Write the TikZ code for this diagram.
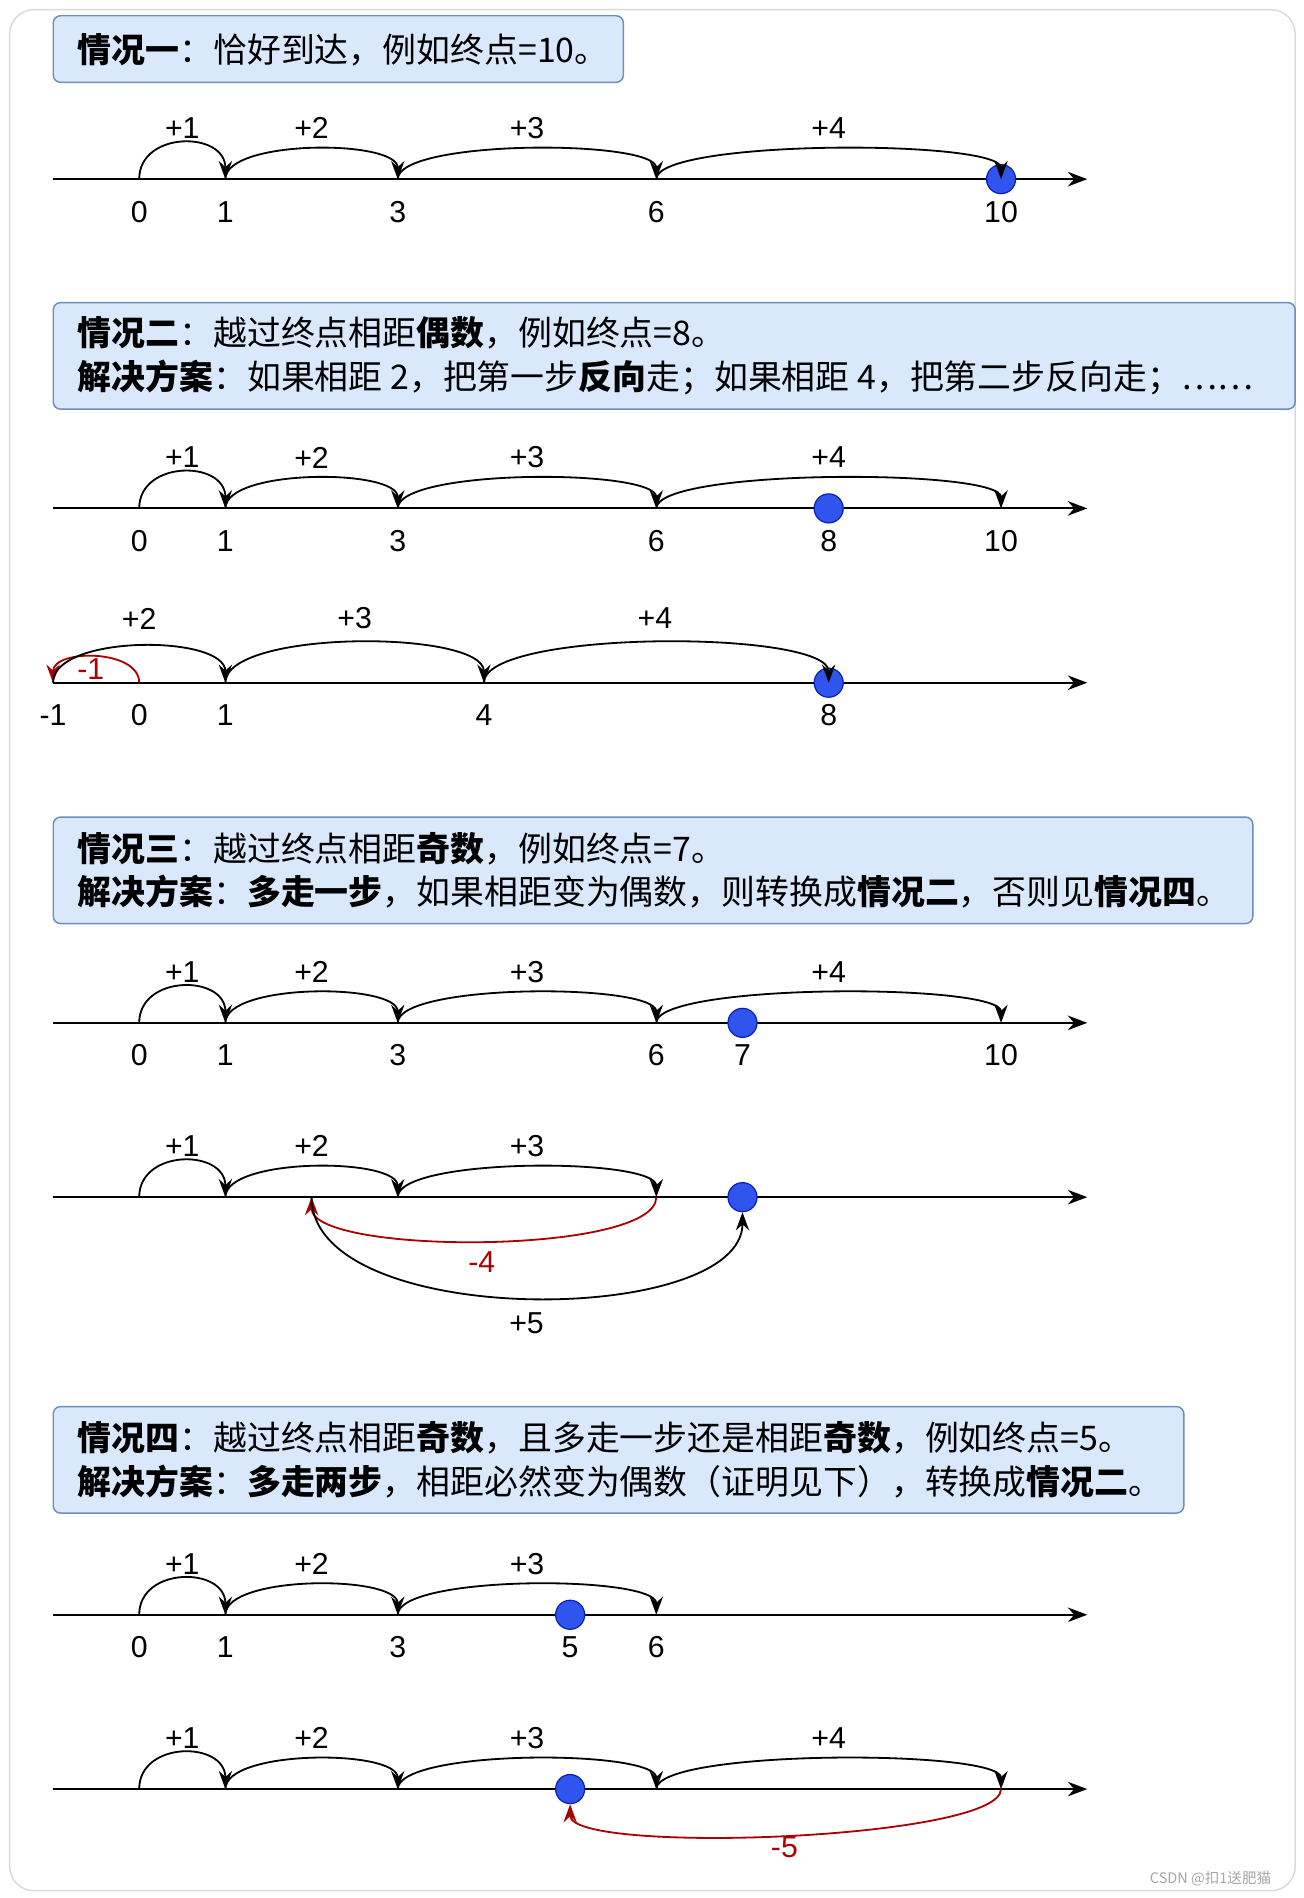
\documentclass[tikz,border=0pt]{standalone}
\usepackage{fontspec}
\setmainfont{Liberation Sans}
\newfontfamily\cjk{Noto Sans CJK SC}
\usetikzlibrary{arrows.meta,calc}
\definecolor{boxfill}{RGB}{218,232,252}
\definecolor{boxline}{RGB}{108,142,191}
\definecolor{dotfill}{RGB}{48,84,238}
\definecolor{dotline}{RGB}{10,30,190}
\definecolor{back}{RGB}{170,0,0}
\tikzset{
 axis/.style={line width=1.6pt,-{Stealth[length=16pt,width=12pt]}},
 hop/.style={line width=1.5pt,-{Stealth[length=15pt,width=11pt,inset=5pt]}},
 backhop/.style={hop,back},
 case/.style={draw=boxline,fill=boxfill,line width=1.2pt,rounded corners=6pt},
 casetext/.style={anchor=west,font=\cjk\fontsize{28}{36}\selectfont,align=left,inner sep=0pt},
 num/.style={font=\fontsize{25}{25}\selectfont},
 target/.style={circle,draw=dotline,fill=dotfill,line width=1pt,minimum size=24pt,inner sep=0pt}
}
\begin{document}
\begin{tikzpicture}[x=1pt,y=-1pt]
\useasboundingbox (0,0) rectangle (1077,1568);
\draw[gray!30,line width=1.2pt,rounded corners=20pt] (8,8) rectangle (1070,1562);
% tick points of the seven lines
\foreach \l/\y in {a/148,b/420,c/564,d/845,e/989,f/1334,g/1478}
 \foreach \n in {-1,...,11}
  \coordinate (\l\n) at ({115+71.2*\n},\y);
% case boxes
\draw[case] (44,13) rectangle (515,68);
\node[casetext] (t1) at (64,41) {\textbf{情况一}：恰好到达，例如终点=10。};
\draw[case] (44,250) rectangle (1070,338);
\node[casetext] (t2) at (64,294) {\textbf{情况二}：越过终点相距\textbf{偶数}，例如终点=8。\\
 \textbf{解决方案}：如果相距 2，把第一步\textbf{反向}走；如果相距 4，把第二步反向走；……};
\draw[case] (44,675) rectangle (1035,763);
\node[casetext] (t3) at (64,719) {\textbf{情况三}：越过终点相距\textbf{奇数}，例如终点=7。\\
 \textbf{解决方案}：\textbf{多走一步}，如果相距变为偶数，则转换成\textbf{情况二}，否则见\textbf{情况四}。};
\draw[case] (44,1162) rectangle (978,1250);
\node[casetext] (t4) at (64,1206) {\textbf{情况四}：越过终点相距\textbf{奇数}，且多走一步还是相距\textbf{奇数}，例如终点=5。\\
 \textbf{解决方案}：\textbf{多走两步}，相距必然变为偶数（证明见下），转换成\textbf{情况二}。};
% axes
\foreach \l in {a,b,c,d,e,f,g}
 \draw[axis] (\l-1) -- (\l11);
% targets
\node[target] (ta) at (a10) {};
\node[target] (tb) at (b8) {};
\node[target] (tc) at (c8) {};
\node[target] (td) at (d7) {};
\node[target] (te) at (e7) {};
\node[target] (tf) at (f5) {};
\node[target] (tg) at (g5) {};
% forward hops 0-1-3-6-10
\foreach \l in {a,b,d,e,f,g} {
 \draw[hop] (\l0) .. controls +(0,-40) and +(0,-40) .. (\l1);
 \draw[hop] (\l1) .. controls +(0,-33) and +(0,-33) .. (\l3);
 \draw[hop] (\l3) .. controls +(0,-33) and +(0,-33) .. (\l6);
 \node[num] at ([yshift=42pt]$(\l0)!0.5!(\l1)$) {+1};
 \node[num] at ([yshift=42pt]$(\l1)!0.5!(\l3)$) {+2};
 \node[num] at ([yshift=42pt]$(\l3)!0.5!(\l6)$) {+3};
}
\foreach \l in {a,b,d,g} {
 \draw[hop] (\l6) .. controls +(0,-33) and +(0,-33) .. (\l10);
 \node[num] at ([yshift=42pt]$(\l6)!0.5!(\l10)$) {+4};
}
% line c: first step turned back
\draw[backhop] (c0) .. controls +(0,-28) and +(0,-28) .. (c-1);
\node[num,back] (m1) at (75,553) {-1};
\draw[hop] (c-1) .. controls +(0,-40) and +(0,-40) .. (c1);
\draw[hop] (c1) .. controls +(0,-44) and +(0,-44) .. (c4);
\draw[hop] (c4) .. controls +(0,-44) and +(0,-44) .. (c8);
\node[num] at (115,511) {+2};
\node[num] at (293,511) {+3};
\node[num] at (541,511) {+4};
% line e: one more step and back
\draw[backhop] (e6) .. controls +(0,48) and +(0,48) .. (e2);
\node[num,back] (m4) at (398,1043) {-4};
\draw[hop] (e2) .. controls +(0,110) and +(0,95) .. (te.south);
\node[num] (p5) at (435,1093) {+5};
% line g: back from 10 to 5
\draw[backhop] (g10) .. controls +(0,42) and +(0,42) .. (tg.south);
\node[num,back] (m5) at (648,1526) {-5};
% tick labels
\foreach \l/\ns in {a/{0,1,3,6,10},b/{0,1,3,6,8,10},c/{-1,0,1,4,8},d/{0,1,3,6,7,10},f/{0,1,3,5,6}}
 \foreach \n in \ns
  \node[num] at ([yshift=-27pt]\l\n) {\n};
\node[font=\cjk\fontsize{12}{12}\selectfont,gray!70] (mark) at (1000,1552) {CSDN @扣1送肥猫};
\end{tikzpicture}
\end{document}
